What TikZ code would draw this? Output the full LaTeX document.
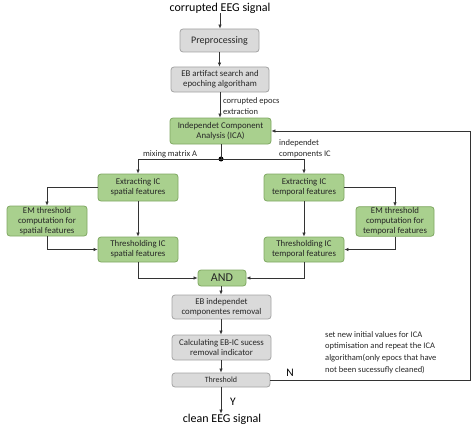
\documentclass[tikz,border=0pt]{standalone}
\usepackage{fontspec}
\setmainfont{Carlito}
\usetikzlibrary{arrows.meta}
\definecolor{gfill}{HTML}{A9D08E}
\definecolor{gdraw}{HTML}{7FA862}
\definecolor{kfill}{HTML}{DADADA}
\definecolor{kdraw}{HTML}{A3A3A3}
\begin{document}
\begin{tikzpicture}[x=1pt,y=-1pt,
  box/.style={rounded corners=3pt, line width=0.8pt, align=center, inner sep=1pt,
    font=\fontsize{8.8}{10}\selectfont, text=black!85},
  gbox/.style={box, fill=gfill, draw=gdraw},
  kbox/.style={box, fill=kfill, draw=kdraw},
  conn/.style={line width=0.7pt, draw=black!80},
  arr/.style={conn, -{Latex[length=4pt,width=3.5pt]}},
  lbl/.style={font=\fontsize{8.5}{10.5}\selectfont, align=left, inner sep=0pt, text=black!85},
  big/.style={font=\fontsize{12}{14}\selectfont, inner sep=0pt}]
\useasboundingbox (0,0) rectangle (474,428);
% nodes
\node[big] (in) at (220,8) {corrupted EEG signal};
\node[kbox, minimum width=79pt, minimum height=23pt, font=\fontsize{10}{12}\selectfont] (pre) at (219.5,40.5) {Preprocessing};
\node[kbox, minimum width=98pt, minimum height=25pt] (eb) at (220,79.5) {EB artifact search and\\epoching algoritham};
\node[gbox, minimum width=101pt, minimum height=26pt] (ica) at (220.5,131) {Independet Component\\Analysis (ICA)};
\node[circle, fill=black, inner sep=0pt, minimum size=5pt] (dot) at (221,159) {};
\node[gbox, minimum width=80pt, minimum height=27pt] (exs) at (138,187.5) {Extracting IC\\spatial features};
\node[gbox, minimum width=80pt, minimum height=30pt] (ems) at (47,221) {EM threshold\\computation for\\spatial features};
\node[gbox, minimum width=80pt, minimum height=25pt] (ths) at (138,249.5) {Thresholding IC\\spatial features};
\node[gbox, minimum width=80pt, minimum height=27pt] (ext) at (304,187.5) {Extracting IC\\temporal features};
\node[gbox, minimum width=78pt, minimum height=29pt] (emt) at (395,221.5) {EM threshold\\computation for\\temporal features};
\node[gbox, minimum width=80pt, minimum height=25pt] (tht) at (304,249.5) {Thresholding IC\\temporal features};
\node[gbox, minimum width=48pt, minimum height=16pt, font=\fontsize{12}{13}\selectfont] (and) at (222,278) {AND};
\node[kbox, minimum width=99pt, minimum height=24pt] (rem) at (221.5,307) {EB independet\\componentes removal};
\node[kbox, minimum width=99pt, minimum height=25pt] (calc) at (221.5,347.5) {Calculating EB-IC sucess\\removal indicator};
\node[kbox, minimum width=98pt, minimum height=14pt, font=\fontsize{8}{9}\selectfont] (thr) at (221,380) {Threshold};
\node[big] (out) at (222,419) {clean EEG signal};
\coordinate (fb) at (470,380);
% labels
\node[lbl, anchor=west] (l1) at (223,106) {corrupted epocs\\extraction};
\node[lbl, anchor=base west] (l2) at (143,156) {mixing matrix A};
\node[lbl, anchor=west] (l3) at (279,148.5) {independet\\components IC};
\node[font=\fontsize{11.5}{13}\selectfont, inner sep=0pt] (nl) at (290,373) {N};
\node[font=\fontsize{11.5}{13}\selectfont, inner sep=0pt] (yl) at (233,402) {Y};
\node[lbl, anchor=north west, font=\fontsize{8.5}{11.7}\selectfont] (note) at (325,331) {set new initial values for ICA\\optimisation and repeat the ICA\\algoritham(only epocs that have\\not been sucessufly cleaned)};
% connectors
\draw[arr] (in.south) -- (in.south |- pre.north);
\draw[arr] (pre.south) -- (pre.south |- eb.north);
\draw[arr] (eb.south) -- (eb.south |- ica.north);
\draw[conn] (dot.center |- ica.south) -- (dot.center);
\draw[arr] (dot.center) -| (exs.north);
\draw[arr] (dot.center) -| (ext.north);
\draw[arr] (exs.west) -| (ems.north);
\draw[arr] (ems.south) |- (ths.west);
\draw[arr] (exs.south) -- (ths.north);
\draw[arr] (ths.south) |- (and.west);
\draw[arr] (ext.east) -| (emt.north);
\draw[arr] (emt.south) |- (tht.east);
\draw[arr] (ext.south) -- (tht.north);
\draw[arr] (tht.south) |- (and.east);
\draw[arr] (dot.center |- and.south) -- (dot.center |- rem.north);
\draw[arr] (dot.center |- rem.south) -- (dot.center |- calc.north);
\draw[arr] (dot.center |- calc.south) -- (dot.center |- thr.north);
\draw[arr] (dot.center |- thr.south) -- (dot.center |- out.north);
\draw[arr] (thr.east) -- (fb) |- (ica.east);
\end{tikzpicture}
\end{document}
